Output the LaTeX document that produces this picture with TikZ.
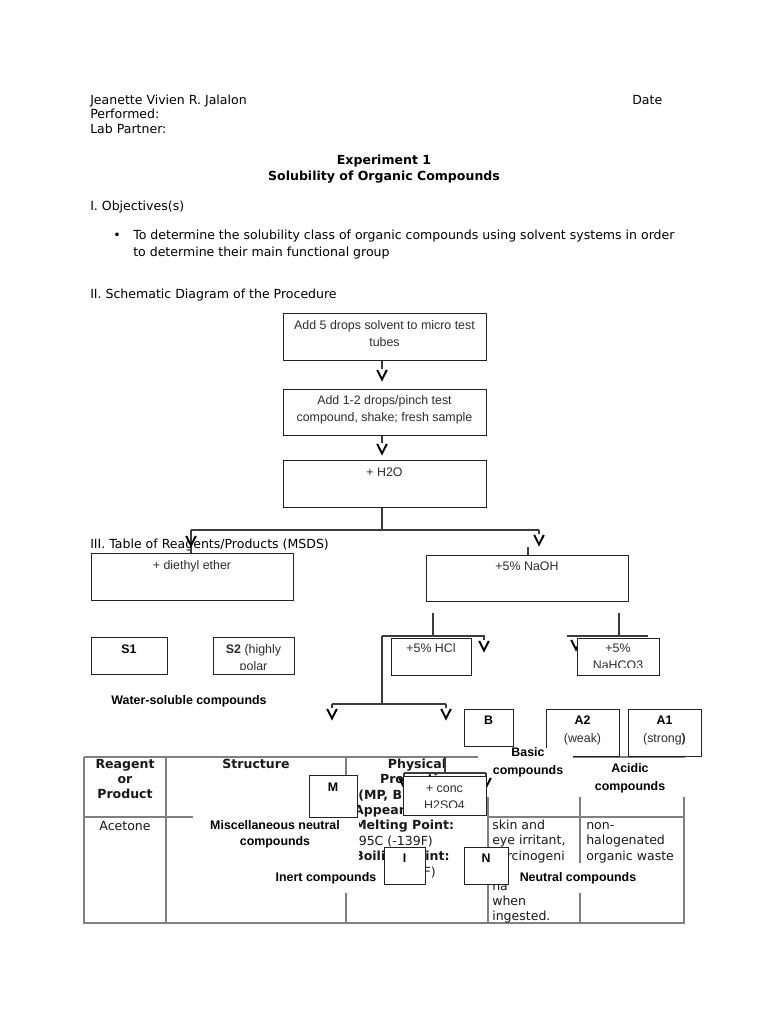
\documentclass[tikz,border=0pt]{standalone}
\usepackage{fontspec}
\newfontfamily\dvs{DejaVu Sans}
\newfontfamily\lib{Liberation Sans}
\newcommand\hdfont{\dvs\fontsize{9.4pt}{11pt}\selectfont}
\newcommand\fcfont{\lib\fontsize{9.3pt}{11pt}\selectfont}
\definecolor{boxline}{RGB}{35,35,35}
\definecolor{connline}{RGB}{60,60,60}
\definecolor{tabline}{RGB}{128,128,128}
\definecolor{fctext}{RGB}{45,45,45}
\definecolor{tabtext}{RGB}{25,25,25}
\pgfdeclarelayer{tabl}
\pgfdeclarelayer{lowb}
\pgfdeclarelayer{frm}
\pgfdeclarelayer{cnn}
\pgfsetlayers{tabl,lowb,frm,cnn,main}
\newcommand\mkbox[5]{\node[box, minimum width={(#4-#2)*0.75pt}, minimum height={(#5-#3)*0.75pt}] (#1) at (#2,#3) {};}
\begin{document}
\begin{tikzpicture}[x=0.75pt,y=-0.75pt,
  hd/.style={font=\hdfont, inner sep=0pt, anchor=base west, text=black},
  hdb/.style={hd, font=\hdfont\bfseries},
  th/.style={font=\hdfont\bfseries, inner sep=0pt, anchor=base, text=tabtext},
  td/.style={font=\hdfont, inner sep=0pt, anchor=base west, text=tabtext},
  tx/.style={font=\fcfont, inner sep=0pt, anchor=base, text=fctext},
  lb/.style={font=\fcfont\bfseries, inner sep=0pt, anchor=base, text=black},
  box/.style={draw=boxline, fill=white, line width=0.8pt, inner sep=0pt, anchor=north west},
  conn/.style={draw=connline, line width=0.9pt},
  tl/.style={draw=tabline, line width=1.1pt},
  vee/.pic={\draw[line width=1.45pt, draw=black, line join=miter] (-4.8,1) -- (0,10.5) -- (4.8,1);}
]
\useasboundingbox (0,0) rectangle (768,1024);

\begin{pgfonlayer}{tabl}
\fill[white] (0,0) rectangle (768,1024);
% header
\node[hd] (name) at (90,104) {Jeanette Vivien R. Jalalon};
\node[hd] (date) at (632,104) {Date};
\node[hd] (perf) at (90,118.5) {Performed:};
\node[hd] (lab) at (90,133) {Lab Partner:};
\node[hdb, anchor=base] (exp) at (384,164) {Experiment 1};
\node[hdb, anchor=base] (sol) at (384,180) {Solubility of Organic Compounds};
\node[hd] (obj) at (90,210) {I. Objectives(s)};
\node[hd, anchor=base] (bul) at (117,239) {•};
\node[hd] (obj1) at (133,239) {To determine the solubility class of organic compounds using solvent systems in order};
\node[hd] (obj2) at (133,256) {to determine their main functional group};
\node[hd] (sch) at (90,298) {II. Schematic Diagram of the Procedure};
\node[hd] (tab) at (90,548) {III. Table of Reagents/Products (MSDS)};
% table
\draw[tl] (84,757) -- (684,757);
\draw[tl] (84,757) -- (84,923) -- (684,923) -- (684,757);
\foreach \cx in {166,346,488,580} {\draw[tl] (\cx,757) -- (\cx,923);}
\draw[tl] (84,817) -- (346,817);
\draw[tl] (488,817) -- (684,817);
\node[th] (h1a) at (125,768.5) {Reagent};
\node[th] (h1b) at (125,783.5) {or};
\node[th] (h1c) at (125,798.5) {Product};
\node[th] (h2) at (256,768.5) {Structure};
\node[th] (h3a) at (417,768.5) {Physical};
\node[th] (h3b) at (417,783.5) {Properties};
\node[th] (h3c) at (417,799) {(MP, BP, Density,};
\node[th] (h3d) at (417,814) {Appearance, etc.)};
\node[td, anchor=base] (r1) at (125,830.5) {Acetone};
\node[td, font=\hdfont\bfseries] (p1) at (354,829.5) {Melting Point:};
\node[td] (p2) at (354,845) {-95C (-139F)};
\node[td, font=\hdfont\bfseries] (p3) at (354,860.5) {Boiling Point:};
\node[td] (p4) at (354,876) {56.2C (133F)};
\node[td] (z1) at (492,829.5) {skin and};
\node[td] (z2) at (492,844.5) {eye irritant,};
\node[td] (z3) at (492,860) {carcinogeni};
\node[td] (z4) at (492,875.5) {c};
\node[td] (z5) at (492,890.5) {harmful};
\node[td] (z6) at (492,905.5) {when};
\node[td] (z7) at (492,920.5) {ingested.};
\node[td] (d1) at (586,829.5) {non-};
\node[td] (d2) at (586,844.5) {halogenated};
\node[td] (d3) at (586,860) {organic waste};
\end{pgfonlayer}

% boxes under the label frames
\begin{pgfonlayer}{lowb}
\mkbox{bA2}{546}{709}{619}{756}
\mkbox{bA1}{628}{709}{701}{756}
\node[lb] (tA2) at (582.5,724.5) {A2};
\node[tx] (tA2b) at (582.5,742.5) {(weak)};
\node[lb] (tA1) at (664.5,724.5) {A1};
\node[tx] (tA1b) at (664.5,742.5) {(strong\textbf{)}};
\end{pgfonlayer}

% label frames
\begin{pgfonlayer}{frm}
\fill[white] (478,748) rectangle (573,797);
\fill[white] (573,758) rectangle (702,797);
\fill[white] (193,813) rectangle (359,862);
\fill[white] (258,862) rectangle (384,893);
\fill[white] (508,863) rectangle (650,893);
\node[lb] (lws) at (189,704.5) {Water-soluble compounds};
\node[lb] (lbas1) at (528,756.5) {Basic};
\node[lb] (lbas2) at (528,774.5) {compounds};
\node[lb] (lac1) at (630,772.5) {Acidic};
\node[lb] (lac2) at (630,790.5) {compounds};
\node[lb] (lmi1) at (275,829.5) {Miscellaneous neutral};
\node[lb] (lmi2) at (275,845.5) {compounds};
\node[lb] (lin) at (326,881.5) {Inert compounds};
\node[lb] (lne) at (578,881.5) {Neutral compounds};
\end{pgfonlayer}

% main boxes
\mkbox{b1}{283}{313}{486}{360}
\node[tx] (t1a) at (384.5,329.5) {Add 5 drops solvent to micro test};
\node[tx] (t1b) at (384.5,346.5) {tubes};
\mkbox{b2}{283}{389}{486}{435}
\node[tx] (t2a) at (384.5,404.5) {Add 1-2 drops/pinch test};
\node[tx] (t2b) at (384.5,421.5) {compound, shake; fresh sample};
\mkbox{b3}{283}{460}{486}{507}
\node[tx] (t3) at (384.5,476.5) {+ H2O};
\mkbox{bdi}{91}{553}{293}{600}
\node[tx] (tdi) at (192,569.5) {+ diethyl ether};
\mkbox{bna}{426}{555}{628}{601}
\node[tx] (tna) at (527,570.5) {+5\% NaOH};
\mkbox{bs1}{91}{637}{167}{674}
\node[lb] (ts1) at (129,653.5) {S1};
\mkbox{bs2}{213}{637}{294}{674}
\begin{scope}
\clip (213,637) rectangle (294,669.5);
\node[tx] (ts2a) at (253.5,653.5) {\textbf{S2} (highly};
\node[tx] (ts2b) at (253.5,670.5) {polar};
\end{scope}
\mkbox{bhcl}{391}{638}{471}{675}
\node[tx] (thc) at (431,652.5) {+5\% HCl};
\mkbox{bnahco}{577}{638}{659}{675}
\begin{scope}
\clip (577,638) rectangle (659,667.5);
\node[tx] (tnh1) at (618,652.5) {+5\%};
\node[tx] (tnh2) at (618,669.5) {NaHCO3};
\end{scope}
\mkbox{bB}{464}{709}{513}{746}
\node[lb] (tB) at (488.5,724.5) {B};
\mkbox{bM}{309}{775}{357}{817}
\node[lb] (tM) at (333,791.5) {M};
\mkbox{bconc}{403}{776}{486}{815}
\begin{scope}
\clip (403,776) rectangle (486,807.5);
\node[tx] (tc1) at (444.5,792.5) {+ conc};
\node[tx] (tc2) at (444.5,809.5) {H2SO4};
\end{scope}
\mkbox{bI}{384}{847}{425}{884}
\node[lb] (tI) at (404.5,862.5) {I};
\mkbox{bN}{464}{847}{508}{884}
\node[lb] (tN) at (486,862.5) {N};

% connectors
\begin{pgfonlayer}{cnn}
\coordinate (e1) at (382,369);
\draw[conn] (b1.south -| e1) -- (e1);
\pic at (e1) {vee};
\coordinate (e2) at (382,443);
\draw[conn] (b2.south -| e2) -- (e2);
\pic at (e2) {vee};
\coordinate (j1) at (382,530);
\coordinate (jl) at (191,530);
\coordinate (jr) at (539,530);
\draw[conn] (b3.south -| j1) -- (j1);
\draw[conn] (jl) -- (jr);
\draw[conn] (jl) -- (bdi.north -| jl);
\coordinate (e3) at (191,535);
\pic at (e3) {vee};
\coordinate (e4) at (539,534);
\draw[conn] (jr) -- (e4);
\pic at (e4) {vee};
\coordinate (s4) at (528,547);
\draw[conn] (s4) -- (bna.north -| s4);
% below NaOH
\coordinate (k1) at (433,613);
\coordinate (k2) at (433,636);
\draw[conn] (k1) -- (k2);
\coordinate (h1) at (382,636);
\coordinate (h2) at (484,636);
\coordinate (e5) at (484,640);
\draw[conn] (h1) -- (h2) -- (e5);
\pic at (e5) {vee};
\coordinate (m1) at (619,613);
\coordinate (m2) at (619,636);
\draw[conn] (m1) -- (m2);
\coordinate (n1) at (567,636);
\coordinate (n2) at (648,636);
\draw[conn] (n1) -- (n2);
\coordinate (e6) at (576,639);
\pic at (e6) {vee};
% below HCl
\coordinate (p0) at (382,704);
\coordinate (pl) at (332,704);
\coordinate (pr) at (446,704);
\draw[conn] (h1) -- (p0);
\draw[conn] (pl) -- (pr);
\coordinate (e7) at (332,708);
\coordinate (e8) at (446,708);
\draw[conn] (pl) -- (e7);
\draw[conn] (pr) -- (e8);
\pic at (e7) {vee};
\pic at (e8) {vee};
% conc
\coordinate (q1) at (445,757);
\coordinate (q2) at (445,773);
\draw[conn] (q1) -- (q2);
\coordinate (ql) at (404,773);
\coordinate (qr) at (486,773);
\draw[conn] (ql) -- (qr);
\coordinate (e9) at (404,777);
\coordinate (e10) at (486,777);
\draw[conn] (ql) -- (e9);
\draw[conn] (qr) -- (e10);
\pic at (e9) {vee};
\pic at (e10) {vee};
\end{pgfonlayer}
\end{tikzpicture}
\end{document}
